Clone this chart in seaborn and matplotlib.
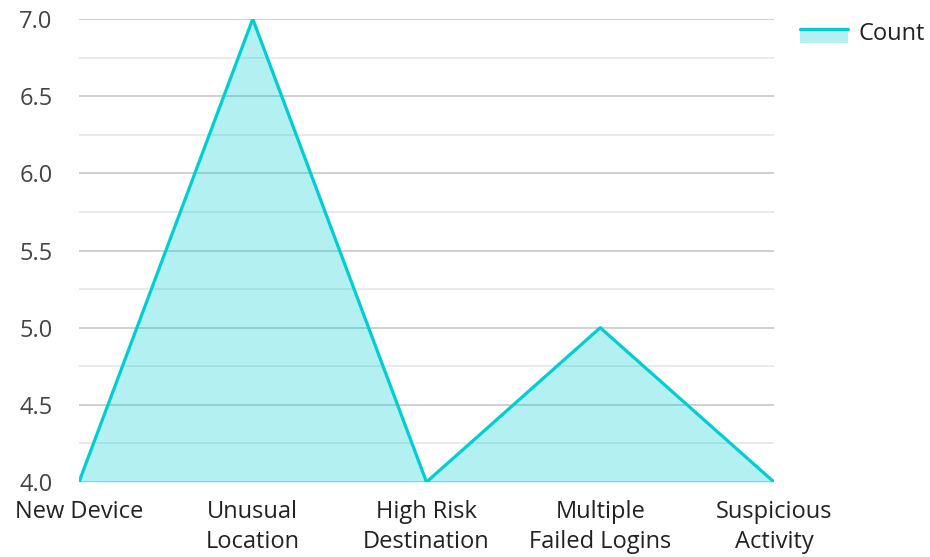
import matplotlib
matplotlib.use("Agg")
import matplotlib.pyplot as plt
import seaborn as sns
import pandas as pd
import numpy as np
from matplotlib.legend_handler import HandlerBase
from matplotlib.patches import Rectangle
from matplotlib.lines import Line2D

categories = ["New Device", "Unusual\nLocation", "High Risk\nDestination", "Multiple\nFailed Logins", "Suspicious\nActivity"]
counts = [4, 7, 4, 5, 4]
series_name = "Count"

LINE = "#00CED1"
FS = 17

sns.set_theme(style="white")
plt.rcParams['font.family'] = ['Open Sans', 'DejaVu Sans']

df = pd.DataFrame({"category": categories, "count": counts, "pos": np.arange(len(categories))})

fig = plt.figure(figsize=(9.3, 5.57), dpi=100)
ax = fig.add_axes([79/930, 1 - 482/557, (774-79)/930, (482-19)/557])

ax.fill_between(df["pos"], df["count"], 4, color=LINE, alpha=0.3, linewidth=0, zorder=2)
sns.lineplot(data=df, x="pos", y="count", ax=ax, color=LINE, linewidth=2.3, zorder=3, legend=False)

ax.set_xlim(0, len(categories) - 1)
ax.set_ylim(4, 7)
ax.set_xticks(df["pos"])
ax.set_xticklabels(categories, fontsize=FS, color="#222222", linespacing=1.33)
yt = np.arange(4, 7.01, 0.5)
ax.set_yticks(yt)
ax.set_yticklabels([f"{v:.1f}" for v in yt], fontsize=FS, color="#444444")
ax.set_yticks(np.arange(4.25, 7, 0.5), minor=True)
ax.tick_params(axis="y", which="both", length=0, pad=19)
ax.tick_params(axis="x", length=0, pad=13)
ax.grid(axis="y", which="major", color="#c8c8c8", linewidth=1.2, zorder=1)
ax.grid(axis="y", which="minor", color="#e6e6e6", linewidth=1.2, zorder=1)
ax.grid(axis="x", visible=False)
ax.set_axisbelow(True)
for s in ax.spines.values():
    s.set_visible(False)
ax.set_xlabel("")
ax.set_ylabel("")


class AreaHandler(HandlerBase):
    def create_artists(self, legend, orig_handle, xdescent, ydescent, width, height, fontsize, trans):
        y0 = -ydescent - 3.5
        r = Rectangle((-xdescent, y0), width, height, facecolor=LINE, alpha=0.3,
                      edgecolor="none", transform=trans)
        l = Line2D([-xdescent, -xdescent + width], [y0 + height, y0 + height],
                   color=LINE, linewidth=2.3, transform=trans)
        return [r, l]


handle = Rectangle((0, 0), 1, 1)
fig.legend([handle], [series_name], handler_map={Rectangle: AreaHandler()},
           loc="upper left", bbox_to_anchor=(795/930, 1 - 17/557), frameon=False,
           fontsize=FS, handlelength=2.05, handleheight=0.55, handletextpad=0.42,
           labelcolor="#222222", borderpad=0.2, borderaxespad=0)

fig.savefig("out.png", dpi=100)
